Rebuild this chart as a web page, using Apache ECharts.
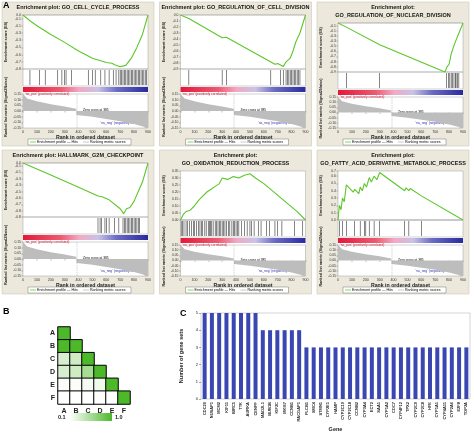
<!DOCTYPE html>
<html><head><meta charset="utf-8">
<script src="https://cdn.jsdelivr.net/npm/echarts@6/dist/echarts.min.js"></script>
<style>html,body{margin:0;padding:0;background:#fff}#c{width:474px;height:434px}</style>
</head><body><div id="c"></div>
<script>
// ---- Panel A data ----
const titles = [
  ["Enrichment plot: GO_CELL_CYCLE_PROCESS"],
  ["Enrichment plot: GO_REGULATION_OF_CELL_DIVISION"],
  ["Enrichment plot:", "GO_REGULATION_OF_NUCLEAR_DIVISION"],
  ["Enrichment plot: HALLMARK_G2M_CHECKPOINT"],
  ["Enrichment plot:", "GO_OXIDATION_REDUCTION_PROCESS"],
  ["Enrichment plot:", "GO_FATTY_ACID_DERIVATIVE_METABOLIC_PROCESS"]
];
const es1 = [[0,0],[50,-0.08],[100,-0.15],[200,-0.27],[300,-0.38],[400,-0.5],[500,-0.6],[600,-0.66],[640,-0.67],[660,-0.69],[700,-0.72],[740,-0.7],[780,-0.6],[820,-0.45],[860,-0.27],[900,0]];
const es2 = [[0,0],[60,-0.06],[65,-0.04],[300,-0.38],[310,-0.36],[330,-0.37],[680,-0.82],[700,-0.81],[740,-0.86],[760,-0.78],[790,-0.72],[810,-0.6],[830,-0.45],[860,-0.3],[900,0]];
const es3 = [[0,0],[60,-0.08],[65,-0.05],[300,-0.42],[305,-0.39],[770,-0.95],[785,-0.85],[800,-0.8],[815,-0.6],[840,-0.4],[870,-0.2],[900,0]];
const es4 = [[0,0],[200,-0.19],[400,-0.38],[500,-0.48],[540,-0.52],[570,-0.53],[620,-0.58],[700,-0.72],[725,-0.8],[745,-0.72],[770,-0.7],[800,-0.6],[830,-0.45],[860,-0.3],[900,0]];
const es5 = [[0,0],[20,0.04],[40,0.06],[70,0.07],[100,0.1],[130,0.14],[160,0.17],[190,0.2],[220,0.22],[250,0.24],[280,0.26],[300,0.3],[340,0.29],[380,0.31],[420,0.3],[460,0.32],[500,0.33],[540,0.3],[600,0.26],[660,0.21],[720,0.16],[780,0.11],[840,0.06],[900,0]];
const es6 = [[0,0],[10,0.2],[22,0.14],[32,0.3],[45,0.25],[60,0.48],[110,0.38],[120,0.42],[150,0.36],[160,0.45],[175,0.4],[190,0.5],[205,0.45],[225,0.58],[240,0.52],[260,0.6],[280,0.55],[300,0.65],[480,0.4],[490,0.44],[510,0.4],[520,0.43],[600,0.33],[610,0.35],[900,0]];
const esMin = [-0.75,-0.9,-0.95,-0.85,0,0];
const esMax = [0,0,0,0,0.35,0.67];
const esInt = [0.1,0.1,0.1,0.1,0.05,0.1];
const hits1 = [50,120,160,250,280,300,310,350,470,500,520,560,590,620,650,670,690,700,710,720,730,740,750,760,770,780,790,800,810,820,830,840,850,860,870,880,890];
const hits2 = [60,300,330,650,720,740,760,770,780,790,800,810,820,830,840,850,860];
const hits3 = [60,300,780,795,805,815,825,835,845,850,860,870];
const hits4 = [540,555,565,590,600,620,660,690,720,730,740,750,760,770,780,790,800,810,820,830,840];
const hits5 = [5,15,25,40,50,65,80,95,100,115,130,140,150,160,175,185,200,210,215,225,235,250,260,270,280,290,300,310,320,330,345,355,370,380,390,400,410,420,440,460,480,500,510,530,560,580,620,640,680,700,730,820,880];
const hits6 = [10,32,60,120,160,190,200,225,260,300,480,510,600];
const ranked = [[0,0.15],[30,0.11],[100,0.085],[200,0.06],[300,0.04],[383,0.02],[386,-0.035],[500,-0.05],[600,-0.07],[700,-0.09],[800,-0.115],[870,-0.14],[900,-0.17]];
// ---- Panel B data ----
const bLabels = ["A","B","C","D","E","F"];
const bValues = [ // [col,row,value]
  [0,0,1],
  [0,1,1],[1,1,1],
  [0,2,0.3],[1,2,0.35],[2,2,1],
  [0,3,0.3],[1,3,0.35],[2,3,0.55],[3,3,1],
  [0,4,0.12],[1,4,0.12],[2,4,0.15],[3,4,0.18],[4,4,1],
  [0,5,0.1],[1,5,0.1],[2,5,0.1],[3,5,0.1],[4,5,0.1],[5,5,1]
];
// ---- Panel C data ----
const genes = ["CDC20","NUSAP1","MCM2","KIF11","BIRC5","TTK","AURKA","CENPF","MAD2L1","BUB1B","KIF2C","MKI67","CCNB1","RACGAP1","PLCB1","SMC4","STMN1","CYP2E1","HAMP","CYP2C19","CYP2C18","CCNB2","CYP3A4","ECT2","SAA1","CYP1A2","CDC7","CYP4F12","TPX2","CYP2C9","CYP2C8","HFE","CYP1A1","CYP4A11","CYP2A6","E2F8","TOP2A"];
const geneSets = [5,5,5,5,5,5,5,5,4,4,4,4,4,4,3,3,3,3,3,3,3,3,3,3,3,3,3,3,3,3,3,3,3,3,3,3,3];

const esList=[es1,es2,es3,es4,es5,es6];
const hitList=[hits1,hits2,hits3,hits4,hits5,hits6];
const grids=[],xAxes=[],yAxes=[],series=[],graphics=[];
const tiny={fontSize:3.6,color:'#333',fontFamily:'Liberation Sans'};
for(let i=0;i<6;i++){
  const c=i%3,r=Math.floor(i/3);
  const px=2+c*157.5, py=2+r*148, pw=152, ph=144;
  const two=titles[i].length>1;
  const esT=py+(two?21:13), esB=py+(two?70:67);
  const hB=esB+17, gT=hB+1, gB=gT+5, rT=gB+2, rB=py+126;
  const L=px+21, W=125;
  graphics.push({type:'rect',shape:{x:px,y:py,width:pw,height:ph},style:{fill:'#ece9dc',stroke:'#cfcab5',lineWidth:0.6},z:-10});
  graphics.push({type:'rect',shape:{x:L,y:esT,width:W,height:rB-esT},style:{fill:'#fff'},z:-9});
  titles[i].forEach((t,k)=>graphics.push({type:'text',x:px+pw/2,y:py+2.5+k*8,style:{text:t,fontSize:5.5,fontWeight:'bold',fill:'#111',align:'center',fontFamily:'Liberation Sans'}}));
  graphics.push({type:'rect',shape:{x:L,y:gT,width:W,height:5},style:{fill:{type:'linear',x:0,y:0,x2:1,y2:0,colorStops:[{offset:0,color:'#e3183a'},{offset:0.3,color:'#ec5a70'},{offset:0.45,color:'#f2a9c4'},{offset:0.6,color:'#c9c3e6'},{offset:0.75,color:'#6c6cc4'},{offset:1,color:'#2a2aa0'}]}}});
  graphics.push({type:'text',x:L+2,y:gB+0.5,style:Object.assign({},tiny,{text:"'na_pos' (positively correlated)",fill:'#d0203a',fontSize:3.3})});
  graphics.push({type:'text',x:L+W*0.48,y:(rT+rB)/2-2,style:Object.assign({},tiny,{text:'Zero cross at 385',fontSize:3.3})});
  graphics.push({type:'text',x:L+W*0.62,y:rB-6,style:Object.assign({},tiny,{text:"'na_neg' (negatively correlated)",fill:'#3030b0',fontSize:3.3})});
  graphics.push({type:'text',x:L+W/2,y:rB+7,style:{text:'Rank in ordered dataset',fontSize:5.2,fontWeight:'bold',fill:'#222',align:'center',fontFamily:'Liberation Sans'}});
  graphics.push({type:'text',x:px+4,y:(esT+esB)/2,rotation:Math.PI/2,style:{text:'Enrichment score (ES)',fontSize:3.8,fontWeight:'bold',fill:'#222',align:'center',verticalAlign:'middle'}});
  graphics.push({type:'text',x:px+4,y:(hB+rB)/2,rotation:Math.PI/2,style:{text:'Ranked list metric (Signal2Noise)',fontSize:3.8,fontWeight:'bold',fill:'#222',align:'center',verticalAlign:'middle'}});
  const lx=px+26, ly=py+137;
  graphics.push({type:'rect',shape:{x:lx,y:ly,width:103,height:6},style:{fill:'#fff',stroke:'#555',lineWidth:0.4}});
  graphics.push({type:'line',shape:{x1:lx+2,y1:ly+3,x2:lx+8,y2:ly+3},style:{stroke:'#66cc33',lineWidth:0.8}});
  graphics.push({type:'text',x:lx+9,y:ly+1.2,style:Object.assign({},tiny,{text:'Enrichment profile — Hits'})});
  graphics.push({type:'line',shape:{x1:lx+55,y1:ly+3,x2:lx+61,y2:ly+3},style:{stroke:'#bbb',lineWidth:0.8}});
  graphics.push({type:'text',x:lx+62,y:ly+1.2,style:Object.assign({},tiny,{text:'Ranking metric scores'})});
  const g0=grids.length;
  grids.push({left:L,top:esT,width:W,height:esB-esT,show:true,borderColor:'#888',borderWidth:0.4,backgroundColor:'#fff'});
  grids.push({left:L,top:esB,width:W,height:hB-esB,show:true,borderColor:'#888',borderWidth:0.4});
  grids.push({left:L,top:rT,width:W,height:rB-rT,show:true,borderColor:'#888',borderWidth:0.4});
  for(let k=0;k<3;k++) xAxes.push({gridIndex:g0+k,type:'value',min:0,max:900,interval:100,axisLine:{show:false},splitLine:{show:false},axisTick:{show:k==2,length:1.5,lineStyle:{width:0.4}},axisLabel:{show:k==2,fontSize:3.6,margin:2,color:'#333'}});
  yAxes.push({gridIndex:g0,type:'value',min:esMin[i],max:esMax[i],interval:esInt[i],axisLine:{show:false},axisTick:{length:1.5,lineStyle:{width:0.4}},axisLabel:{fontSize:3.4,margin:2,color:'#333',formatter:v=>v.toFixed(esInt[i]<0.1?2:1)},splitLine:{show:false}});
  yAxes.push({gridIndex:g0+1,type:'value',min:0,max:1,show:false});
  yAxes.push({gridIndex:g0+2,type:'value',min:-0.15,max:0.15,interval:0.05,axisLine:{show:false},axisTick:{length:1.5,lineStyle:{width:0.4}},axisLabel:{fontSize:3.4,margin:2,color:'#333',formatter:v=>v.toFixed(2)},splitLine:{show:false}});
  series.push({type:'line',xAxisIndex:g0,yAxisIndex:g0,data:esList[i],symbol:'none',lineStyle:{color:'#5cc72a',width:1.1},silent:true,
    markLine:{silent:true,symbol:'none',data:[{yAxis:0}],lineStyle:{color:'#999',width:0.4,type:'solid'},label:{show:false}}});
  series.push({type:'scatter',xAxisIndex:g0+1,yAxisIndex:g0+1,data:hitList[i].map(x=>[x,0.5]),symbol:'rect',symbolSize:[0.6,hB-esB-2],itemStyle:{color:'#000'},silent:true});
  series.push({type:'line',xAxisIndex:g0+2,yAxisIndex:g0+2,data:ranked,symbol:'none',lineStyle:{width:0},areaStyle:{color:'#bdbdbd',opacity:1},silent:true,
    markLine:{silent:true,symbol:'none',data:[{xAxis:385}],lineStyle:{color:'#999',width:0.4,type:'dashed'},label:{show:false}}});
}
graphics.push({type:'text',x:3,y:1,style:{text:'A',fontSize:9,fontWeight:'bold',fill:'#000'}});
graphics.push({type:'text',x:3,y:307,style:{text:'B',fontSize:9,fontWeight:'bold',fill:'#000'}});
graphics.push({type:'text',x:180,y:309,style:{text:'C',fontSize:9,fontWeight:'bold',fill:'#000'}});
const gBi=grids.length;
grids.push({left:58,top:327,width:72,height:77});
xAxes.push({gridIndex:gBi,type:'category',data:bLabels,position:'bottom',axisLine:{show:false},axisTick:{show:false},axisLabel:{fontSize:7,fontWeight:'bold',color:'#222',margin:4}});
yAxes.push({gridIndex:gBi,type:'category',data:bLabels,inverse:true,axisLine:{show:false},axisTick:{show:false},axisLabel:{fontSize:7,fontWeight:'bold',color:'#222',margin:3}});
series.push({type:'heatmap',xAxisIndex:gBi,yAxisIndex:gBi,data:bValues,itemStyle:{borderColor:'#000',borderWidth:1},silent:true});
const gC=grids.length;
grids.push({left:201,top:313,width:269,height:86,show:true,borderColor:'#bbb',borderWidth:0.6});
xAxes.push({gridIndex:gC,type:'category',data:genes,name:'Gene',nameLocation:'middle',nameGap:27,nameTextStyle:{fontSize:5.5,fontWeight:'bold',color:'#222'},axisLine:{show:false},axisTick:{show:false},axisLabel:{rotate:90,fontSize:4,fontWeight:'bold',color:'#222',interval:0,margin:3}});
yAxes.push({gridIndex:gC,type:'value',min:0,max:5,interval:1,name:'Number of gene sets',nameLocation:'middle',nameGap:12,nameTextStyle:{fontSize:5.5,fontWeight:'bold',color:'#222'},axisLine:{show:false},axisTick:{show:true,length:2,lineStyle:{color:'#555',width:0.5}},axisLabel:{fontSize:4,color:'#222',margin:3},splitLine:{show:false}});
series.push({type:'bar',xAxisIndex:gC,yAxisIndex:gC,data:geneSets,barWidth:'55%',itemStyle:{color:'#3a47b2'},silent:true});
graphics.push({type:'text',x:58,y:414,style:{text:'0.1',fontSize:5.5,fontWeight:'bold',fill:'#222'}});
graphics.push({type:'rect',shape:{x:70,y:413,width:42,height:8},style:{fill:{type:'linear',x:0,y:0,x2:1,y2:0,colorStops:[{offset:0,color:'#ffffff'},{offset:1,color:'#4db82a'}]}}});
graphics.push({type:'text',x:115,y:414,style:{text:'1.0',fontSize:5.5,fontWeight:'bold',fill:'#222'}});
const chart=echarts.init(document.getElementById('c'),null,{renderer:'canvas'});
chart.setOption({animation:false,textStyle:{fontFamily:'Liberation Sans'},grid:grids,xAxis:xAxes,yAxis:yAxes,series:series,graphic:graphics,
  visualMap:{show:false,seriesIndex:series.length-2,min:0.1,max:1,inRange:{color:['#ffffff','#4db82a']}}});
</script></body></html>
